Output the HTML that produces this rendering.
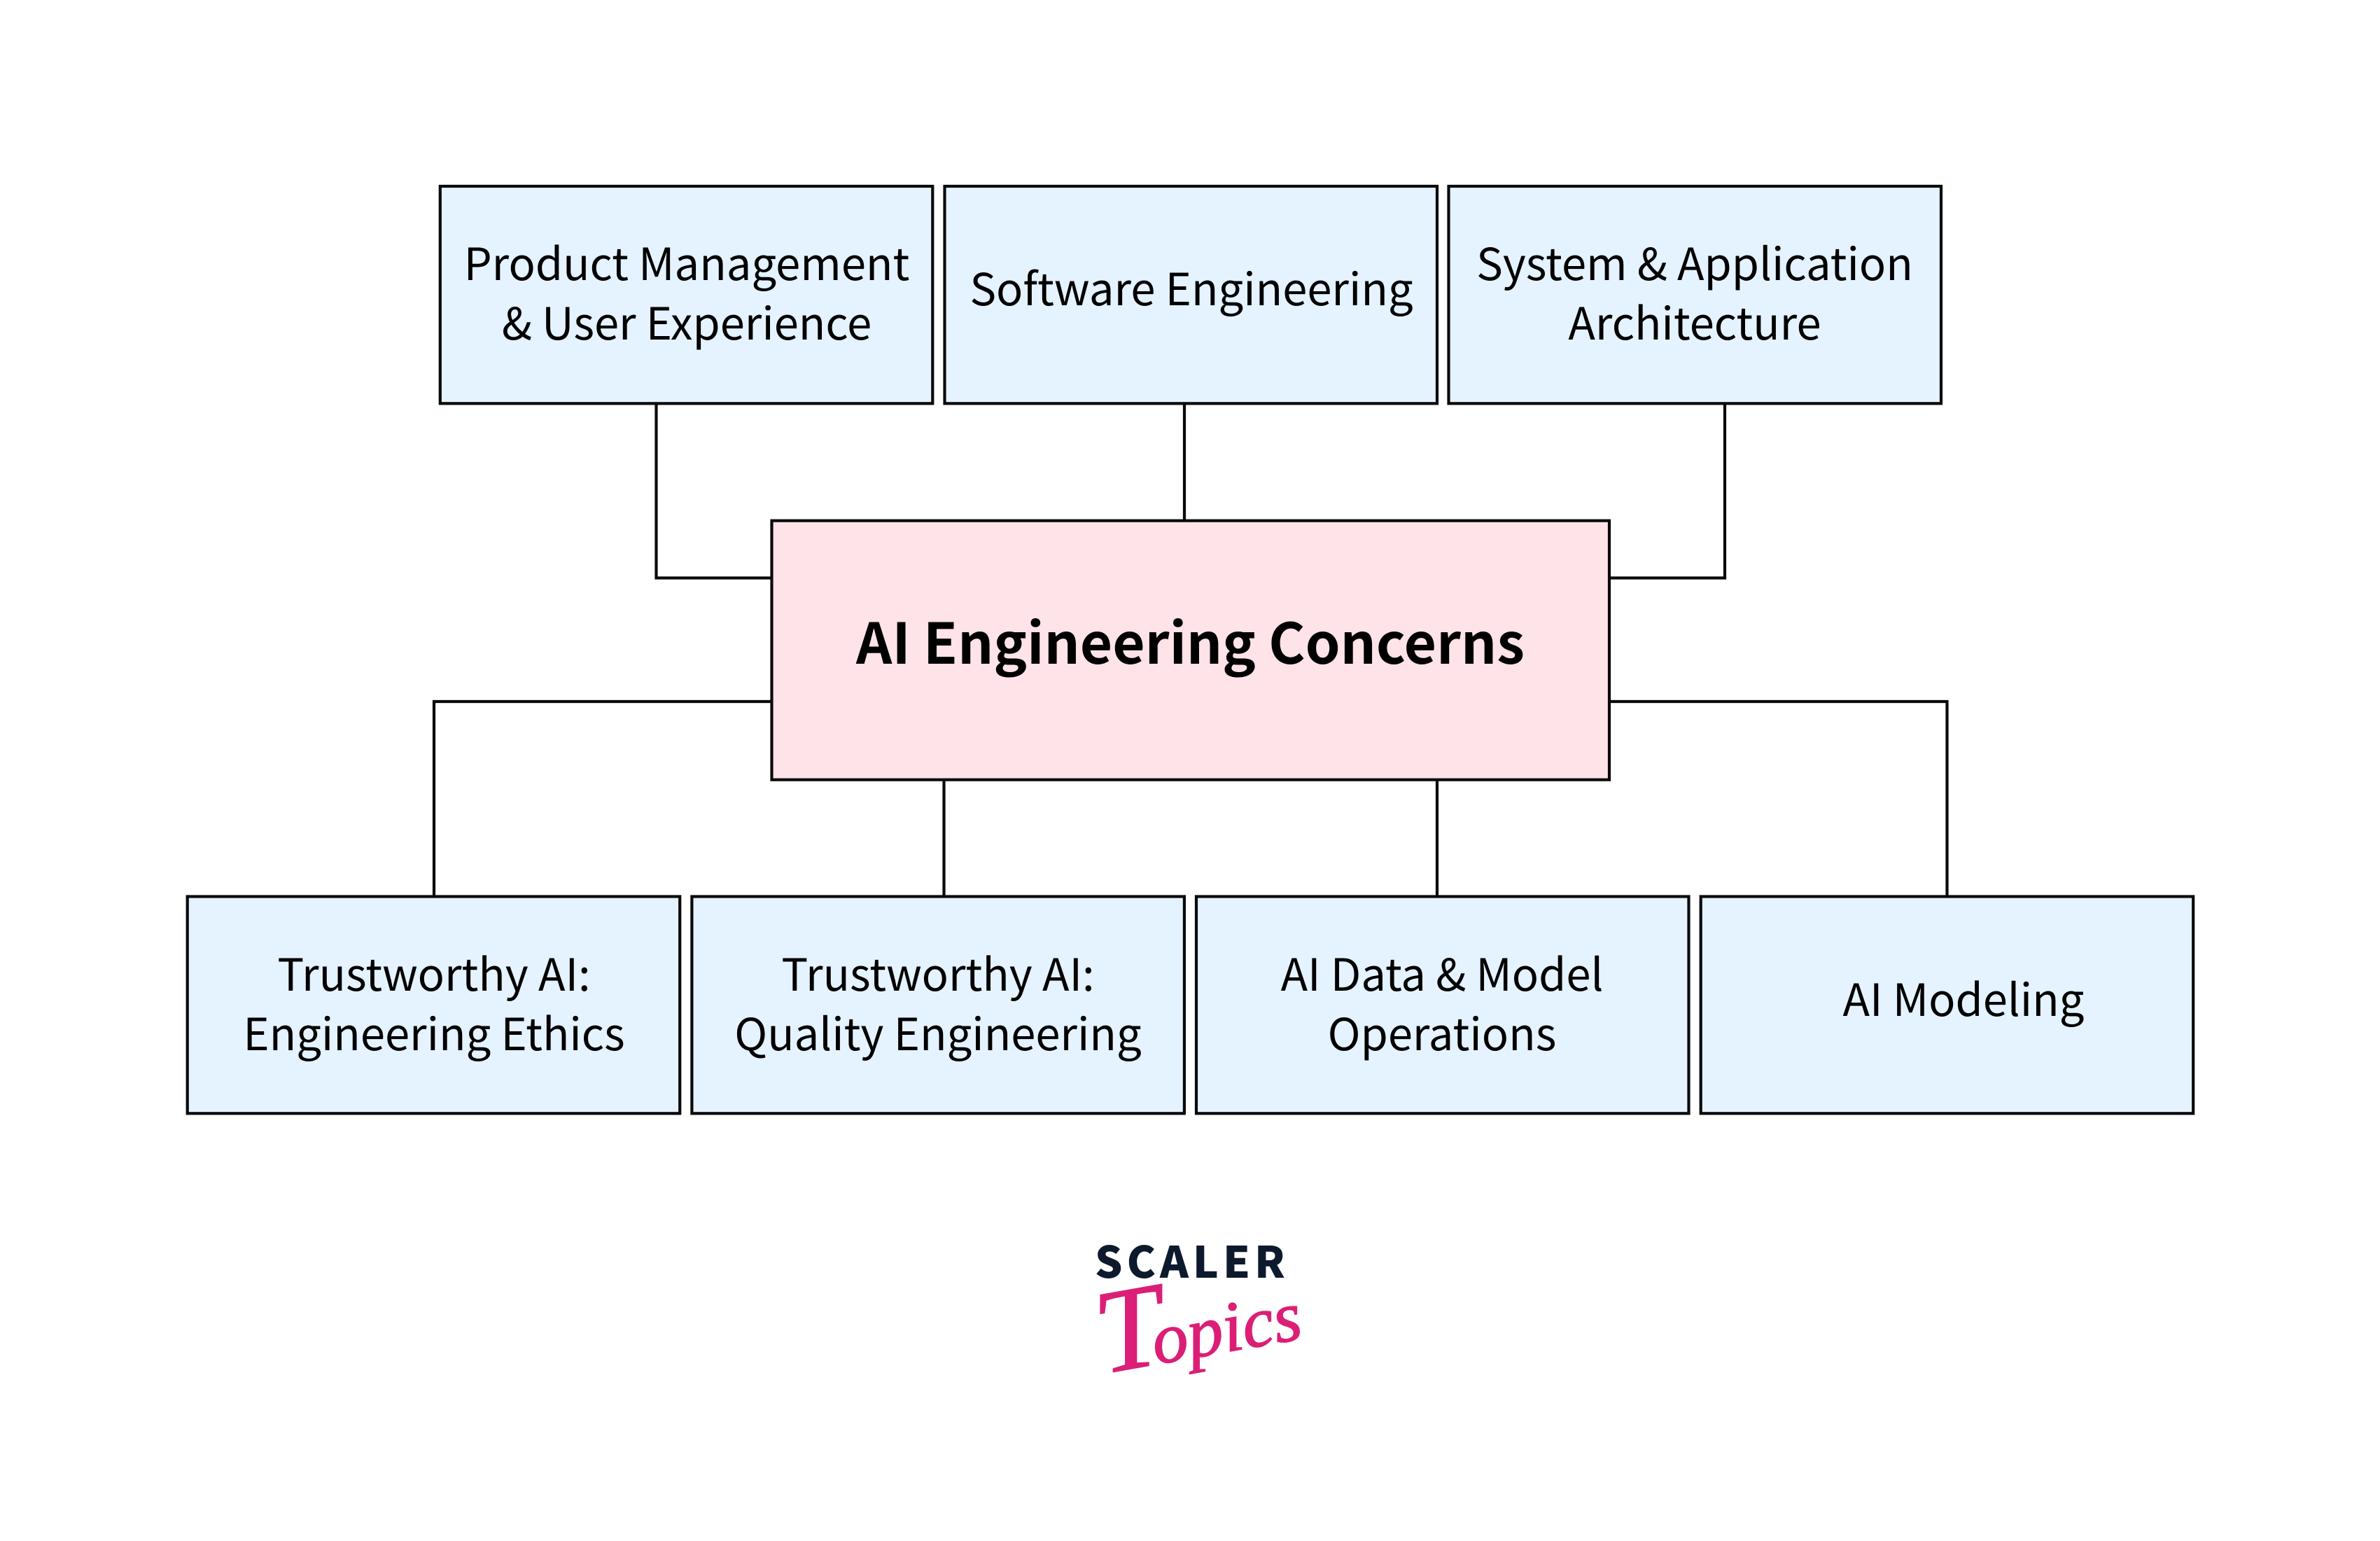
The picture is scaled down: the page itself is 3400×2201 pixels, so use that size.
<!DOCTYPE html>
<html><head><meta charset="utf-8">
<style>html,body{margin:0;padding:0;background:#fff}svg{display:block}
.t{font-family:"Noto Sans CJK JP","Liberation Sans",sans-serif;font-size:63.3px;fill:#000;text-anchor:middle}
</style></head><body>
<svg xmlns="http://www.w3.org/2000/svg" width="3400" height="2201" viewBox="0 0 3400 2201">
<rect width="3400" height="2201" fill="#fff"/>
<g fill="none" stroke="#0a0a0a" stroke-width="4.2">
<path d="M937.5 576V825.5H1102.5"/>
<path d="M1692 576V743.7"/>
<path d="M2464 576V825.5H2299"/>
<path d="M1102.5 1002H620V1280.5"/>
<path d="M1348.5 1113.7V1280.5"/>
<path d="M2053 1113.7V1280.5"/>
<path d="M2299 1002H2781.5V1280.5"/>
</g>
<g fill="#E4F3FF" stroke="#0a0a0a" stroke-width="4.2">
<rect x="628.8" y="266" width="703.5" height="310.3"/>
<rect x="1349.5" y="266" width="703.5" height="310.3"/>
<rect x="2069.5" y="266" width="703.5" height="310.3"/>
<rect x="267.7" y="1280.5" width="703.5" height="309.8"/>
<rect x="988.4" y="1280.5" width="703.5" height="309.8"/>
<rect x="1709" y="1280.5" width="703.5" height="309.8"/>
<rect x="2429.7" y="1280.5" width="703.5" height="309.8"/>
</g>
<rect x="1102.5" y="743.7" width="1196.5" height="370" fill="#FEE3E8" stroke="#0a0a0a" stroke-width="4.2"/>
<text class="t" x="981" y="400">Product Management</text>
<text class="t" x="981" y="485">&amp; User Experience</text>
<text class="t" x="1702" y="436">Software Engineering</text>
<text class="t" x="2421" y="400">System &amp; Application</text>
<text class="t" x="2421" y="485">Architecture</text>
<text class="t" x="620" y="1415">Trustworthy AI:</text>
<text class="t" x="620" y="1500">Engineering Ethics</text>
<text class="t" x="1340" y="1415">Trustworthy AI:</text>
<text class="t" x="1340" y="1500">Quality Engineering</text>
<text class="t" x="2060" y="1415">AI Data &amp; Model</text>
<text class="t" x="2060" y="1500">Operations</text>
<text class="t" x="2805" y="1451">AI Modeling</text>
<text class="t" x="1700.5" y="948" style="font-size:80px;font-weight:700">AI Engineering Concerns</text>
<text x="1703" y="1825" text-anchor="middle" font-family="'Noto Sans CJK JP','Liberation Sans',sans-serif" font-weight="900" font-size="62" letter-spacing="6" fill="#0D1A2D">SCALER</text>
<text transform="translate(1576 1962) rotate(-10)" font-family="'Liberation Serif',serif" font-style="italic" fill="#DB1F77" stroke="#DB1F77" stroke-width="1.5"><tspan font-size="170">T</tspan><tspan font-size="102" dx="-18">opics</tspan></text>
</svg>
</body></html>
